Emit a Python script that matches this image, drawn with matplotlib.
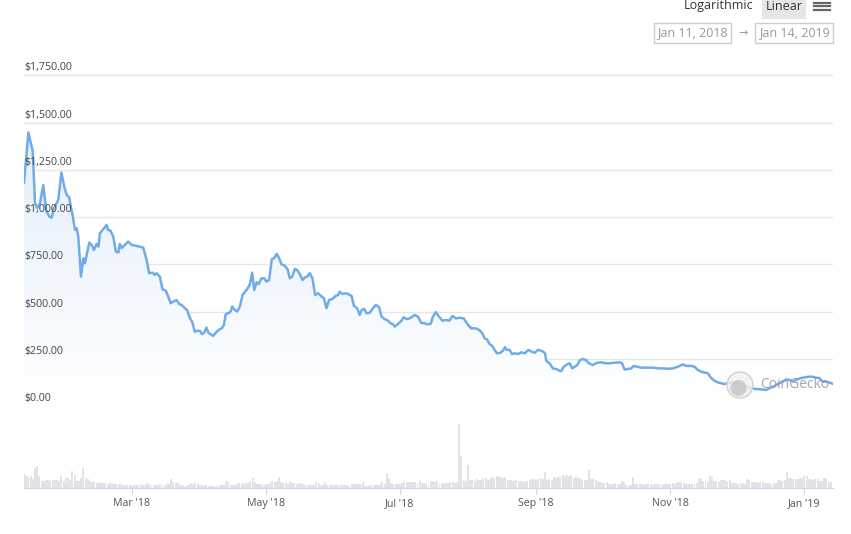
import numpy as np
import matplotlib
matplotlib.use('Agg')
import matplotlib.pyplot as plt
import matplotlib.dates as mdates
from matplotlib.colors import LinearSegmentedColormap
from matplotlib.patches import Rectangle, Circle
from matplotlib.lines import Line2D

plt.rcParams['font.family'] = ['Open Sans', 'DejaVu Sans']

start = np.datetime64('2018-01-11T00')

# price in USD, sampled at days since Jan 11 2018
price_days = [0, 2, 4, 5, 6, 7.3, 8.8, 10, 11.5, 12.6, 13.3, 15.6, 17, 18.3, 19.4, 20.6,
              21.4, 22.1, 23.2, 24, 24.7, 25.9, 27, 27.7, 29.7, 30.8, 31.8, 33, 33.9, 34.5,
              36.4, 37.6, 38.3, 39.4, 40.6, 41.8, 42.9, 43.6, 44.4, 45.9, 47.4, 49, 51.2,
              54.2, 55.8, 56.9, 58.5, 59.5, 60.3, 61.8, 63, 64.5, 65.6, 66.7, 67.9, 69.4,
              70.6, 71.7, 73.2, 74.2, 75.5, 76.5, 77.7, 79, 80, 81, 82, 83, 84, 85, 86,
              87.3, 88.6, 89.9, 90.9, 91.8, 92.9, 94, 94.7, 95.9, 97, 98.2, 99.4, 100.5,
              101.5, 102.7, 103.8, 104.7, 105.8, 106.8, 108, 109.2, 110.3, 111.5, 112.7,
              113.8, 114.9, 115.9, 117.1, 118.6, 119.9, 120.9, 122, 123.2, 124.2, 125.5,
              126.7, 127.7, 128.8, 130, 131.2, 132.4, 133.8, 135.3, 136.4, 137.6, 138.8,
              140.3, 141.8, 142.9, 143.6, 144.9, 146.7, 149, 150.1, 151.5, 152.7, 153.6,
              154.7, 155.8, 157.3, 158.8, 160, 161.5, 162.6, 164.1, 165.6, 166.7, 167.9,
              168.6, 170.1, 171.7, 172.7, 174, 175.5, 177.7, 179.2, 180.8, 182, 183, 185,
              186, 187.3, 188.8, 190.3, 191.8, 193.6, 194.9, 196.4, 198.2, 200, 202, 203.5,
              205.5, 207, 208.5, 209.5, 210.6, 211.8, 213, 214.1, 215.1, 216.7, 217.9,
              218.8, 219.7, 220.9, 222, 223.2, 224.7, 226.2, 227.7, 229.5, 230.8, 232.3,
              233.8, 235.8, 237, 237.6, 239.1, 240.6, 242.1, 243.6, 244.4, 245.5, 247,
              248.2, 249.4, 250.5, 251.7, 252.7, 254, 255.5, 257, 258.8, 260.6, 262.6,
              264.5, 266.4, 268.6, 270.9, 272.1, 273.2, 274.7, 276.2, 277.3, 278.8, 280.8,
              283, 286, 289.1, 290.6, 292.9, 295.1, 297.4, 299.7, 301.2, 303.5, 305, 306.5,
              308, 309.5, 311, 312.6, 314.1, 315.6, 317.1, 318.6, 320.1, 321.7, 323.2,
              324.7, 326.2, 328.5, 330.8, 333, 335.3, 337.6, 339.1, 341.4, 343.6, 345.1,
              346.7, 348.2, 349.7, 351.2, 353.5, 355.8, 358, 360.3, 361.8, 363.3, 364.8,
              366.4, 368]
price_usd = [1181, 1448, 1347, 1075, 1048, 1075, 1170, 1038, 1003, 997, 1038, 1091, 1236,
             1162, 1117, 1105, 1047, 1012, 932, 941, 897, 685, 782, 756, 865, 853, 826, 858,
             844, 914, 941, 959, 932, 927, 897, 818, 813, 858, 836, 853, 870, 853, 847, 839,
             773, 703, 706, 694, 703, 685, 618, 611, 580, 544, 553, 561, 540, 535, 518, 508,
             464, 446, 393, 399, 397, 381, 388, 415, 386, 380, 371, 388, 403, 411, 429, 487,
             491, 500, 527, 508, 500, 527, 588, 605, 618, 644, 706, 614, 655, 646, 676, 676,
             659, 667, 777, 782, 805, 787, 750, 743, 724, 676, 685, 726, 720, 698, 667, 680,
             685, 703, 676, 588, 597, 580, 571, 518, 561, 567, 583, 588, 605, 593, 597, 583,
             530, 518, 482, 508, 514, 491, 494, 518, 535, 524, 474, 460, 452, 438, 433, 420,
             434, 452, 470, 460, 464, 482, 473, 438, 441, 433, 434, 473, 497, 473, 452, 455,
             452, 477, 464, 467, 464, 429, 411, 411, 403, 385, 358, 353, 328, 318, 297, 279,
             282, 293, 311, 297, 297, 275, 279, 275, 284, 279, 297, 288, 282, 297, 291, 279,
             238, 226, 199, 196, 187, 185, 208, 220, 226, 199, 208, 217, 240, 249, 244, 226,
             217, 229, 231, 226, 226, 229, 231, 226, 193, 196, 199, 212, 208, 203, 203, 203,
             199, 199, 197, 199, 208, 220, 213, 212, 208, 191, 182, 177, 174, 148, 134, 125,
             121, 116, 121, 125, 121, 124, 111, 102, 94, 90, 88, 85, 94, 106, 121, 129, 141,
             138, 129, 138, 148, 153, 156, 150, 148, 129, 129, 124, 117]

# daily traded volume (relative units), Jan 11 2018 .. Jan 13 2019
volume = [14, 12, 11, 12, 9, 20, 22, 12, 7, 7, 8, 8, 7, 8, 8, 8, 7, 12, 7, 10,
          10, 8, 17, 13, 7, 7, 10, 20, 10, 9, 7, 6, 6, 5, 6, 5, 5, 5, 4, 5,
          5, 4, 4, 4, 4, 3, 3, 3, 3, 2, 3, 3, 3, 4, 3, 3, 5, 4, 3, 3,
          3, 3, 4, 4, 3, 4, 4, 9, 6, 5, 5, 3, 3, 2, 3, 3, 5, 4, 5, 4,
          3, 3, 2, 3, 2, 2, 2, 1, 2, 3, 3, 3, 7, 6, 3, 3, 3, 4, 5, 5,
          4, 5, 5, 7, 10, 6, 4, 4, 4, 3, 4, 4, 5, 7, 6, 7, 11, 6, 5, 5,
          4, 7, 5, 5, 4, 5, 5, 4, 3, 3, 3, 3, 3, 6, 5, 3, 3, 6, 3, 3,
          3, 3, 3, 3, 3, 3, 3, 3, 2, 4, 4, 4, 4, 4, 6, 2, 2, 2, 3, 3,
          3, 3, 3, 6, 4, 15, 10, 5, 4, 4, 4, 4, 5, 6, 6, 6, 6, 6, 6, 5,
          7, 5, 5, 4, 5, 7, 7, 6, 7, 5, 5, 5, 5, 5, 6, 6, 5, 6, 64, 32,
          8, 7, 23, 8, 8, 7, 9, 8, 8, 9, 10, 8, 9, 11, 10, 12, 11, 11, 10, 11,
          8, 8, 8, 7, 8, 7, 7, 7, 6, 7, 8, 9, 9, 8, 9, 10, 9, 16, 8, 9,
          8, 11, 10, 11, 11, 13, 12, 13, 12, 13, 10, 11, 10, 10, 8, 8, 8, 18, 9, 9,
          8, 6, 6, 6, 5, 6, 4, 4, 4, 5, 4, 4, 7, 6, 3, 3, 3, 11, 4, 4,
          4, 4, 3, 4, 4, 4, 3, 4, 4, 4, 3, 4, 4, 4, 4, 5, 4, 6, 6, 6,
          5, 4, 4, 4, 4, 4, 5, 10, 9, 7, 7, 6, 12, 11, 7, 7, 6, 8, 8, 8,
          7, 8, 5, 5, 5, 4, 5, 5, 4, 9, 8, 6, 6, 6, 5, 6, 6, 5, 5, 5,
          4, 5, 5, 8, 8, 7, 8, 16, 10, 10, 9, 9, 9, 10, 10, 12, 12, 9, 9, 8,
          9, 9, 7, 7, 10, 10, 6, 6]

price_ticks = [0, 250, 500, 750, 1000, 1250, 1500, 1750]
price_labels = ['$0.00', '$250.00', '$500.00', '$750.00', '$1,000.00',
                '$1,250.00', '$1,500.00', '$1,750.00']


def to_num(days):
    t = start + np.round(np.asarray(days, dtype=float) * 24).astype('timedelta64[h]')
    return mdates.date2num(t)


W, H = 851, 534
fig = plt.figure(figsize=(W / 100, H / 100), dpi=100)


def rect(x0, y0, x1, y1):
    return [x0 / W, 1 - y1 / H, (x1 - x0) / W, (y1 - y0) / H]


def fx(px):
    return px / W


def fy(py):
    return 1 - py / H


x_lo, x_hi = to_num(0), to_num(368)

# price panel
ax = fig.add_axes(rect(24, 66, 833, 406))
x = to_num(price_days)
fill = ax.fill_between(x, price_usd, 0, facecolor='none', edgecolor='none')
fade = LinearSegmentedColormap.from_list('fade', ['#ffffff', '#e4eefb'])
grad = np.linspace(0, 1, 256).reshape(-1, 1)
im = ax.imshow(grad, extent=[x[0], x[-1], 0, 1450], origin='lower', aspect='auto',
               cmap=fade, zorder=1)
im.set_clip_path(fill.get_paths()[0], transform=ax.transData)
ax.plot(x, price_usd, color='#70ace8', lw=1.8, zorder=3, solid_joinstyle='round')
for v, lbl in zip(price_ticks, price_labels):
    ax.axhline(v, color='#e6e6e6', lw=1, zorder=0)
    ax.annotate(lbl.replace('$', r'\$'), xy=(0, v), xycoords=('axes fraction', 'data'),
                xytext=(0, 2), textcoords='offset pixels', ha='left', va='bottom',
                fontsize=7.7, color='#444444', zorder=4)
ax.set_xlim(x_lo, x_hi)
ax.set_ylim(0, 1800)
ax.axis('off')

# volume panel
axv = fig.add_axes(rect(24, 410, 833, 488))
vx = to_num(np.arange(len(volume)))
axv.bar(vx, volume, width=0.9, color='#e2e2e8', align='center')
axv.set_xlim(x_lo, x_hi)
axv.set_ylim(0, 78)
for s in ['top', 'left', 'right']:
    axv.spines[s].set_visible(False)
axv.spines['bottom'].set_color('#ccd6eb')
axv.set_yticks([])
axv.xaxis.set_major_locator(mdates.MonthLocator(bymonth=[1, 3, 5, 7, 9, 11]))
axv.xaxis.set_major_formatter(mdates.DateFormatter("%b '%y"))
axv.tick_params(axis='x', length=4, color='#ccd6eb', labelsize=7.7, labelcolor='#555555', pad=3)

# top right controls
fig.text(fx(753), fy(6), 'Logarithmic', ha='right', va='center', fontsize=9, color='#333333')
fig.add_artist(Rectangle((fx(762), fy(19)), 44 / W, 19 / H, transform=fig.transFigure,
                         facecolor='#e6e6e6', edgecolor='none'))
fig.text(fx(784), fy(6), 'Linear', ha='center', va='center', fontsize=9, color='#333333')
for yy in [2.5, 6, 9.5]:
    fig.add_artist(Line2D([fx(814), fx(830)], [fy(yy), fy(yy)], transform=fig.transFigure,
                          color='#666666', lw=1.6))
for x0, x1, txt in [(654, 731, 'Jan 11, 2018'), (755, 833, 'Jan 14, 2019')]:
    fig.add_artist(Rectangle((fx(x0), fy(43)), (x1 - x0) / W, 20 / H, transform=fig.transFigure,
                             facecolor='white', edgecolor='#cccccc', lw=1))
    fig.text(fx((x0 + x1) / 2), fy(33), txt, ha='center', va='center', fontsize=9,
             color='#999999')
fig.text(fx(743), fy(33), '→', ha='center', va='center', fontsize=8, color='#999999',
         family=['DejaVu Sans'])

# watermark
fig.add_artist(Circle((7.40, (H - 385) / 100), 0.13, transform=fig.dpi_scale_trans,
                      facecolor='#f0f0f0', edgecolor='#d0d0d0', lw=1.2, alpha=0.85, zorder=5))
fig.add_artist(Circle((7.385, (H - 388) / 100), 0.08, transform=fig.dpi_scale_trans,
                      facecolor='#c4c4c4', edgecolor='none', alpha=0.8, zorder=5))
fig.text(fx(760), fy(385), 'CoinGecko', ha='left', va='center', fontsize=10,
         color='#999999', alpha=0.85, zorder=6)

fig.savefig('out.png', dpi=100)
